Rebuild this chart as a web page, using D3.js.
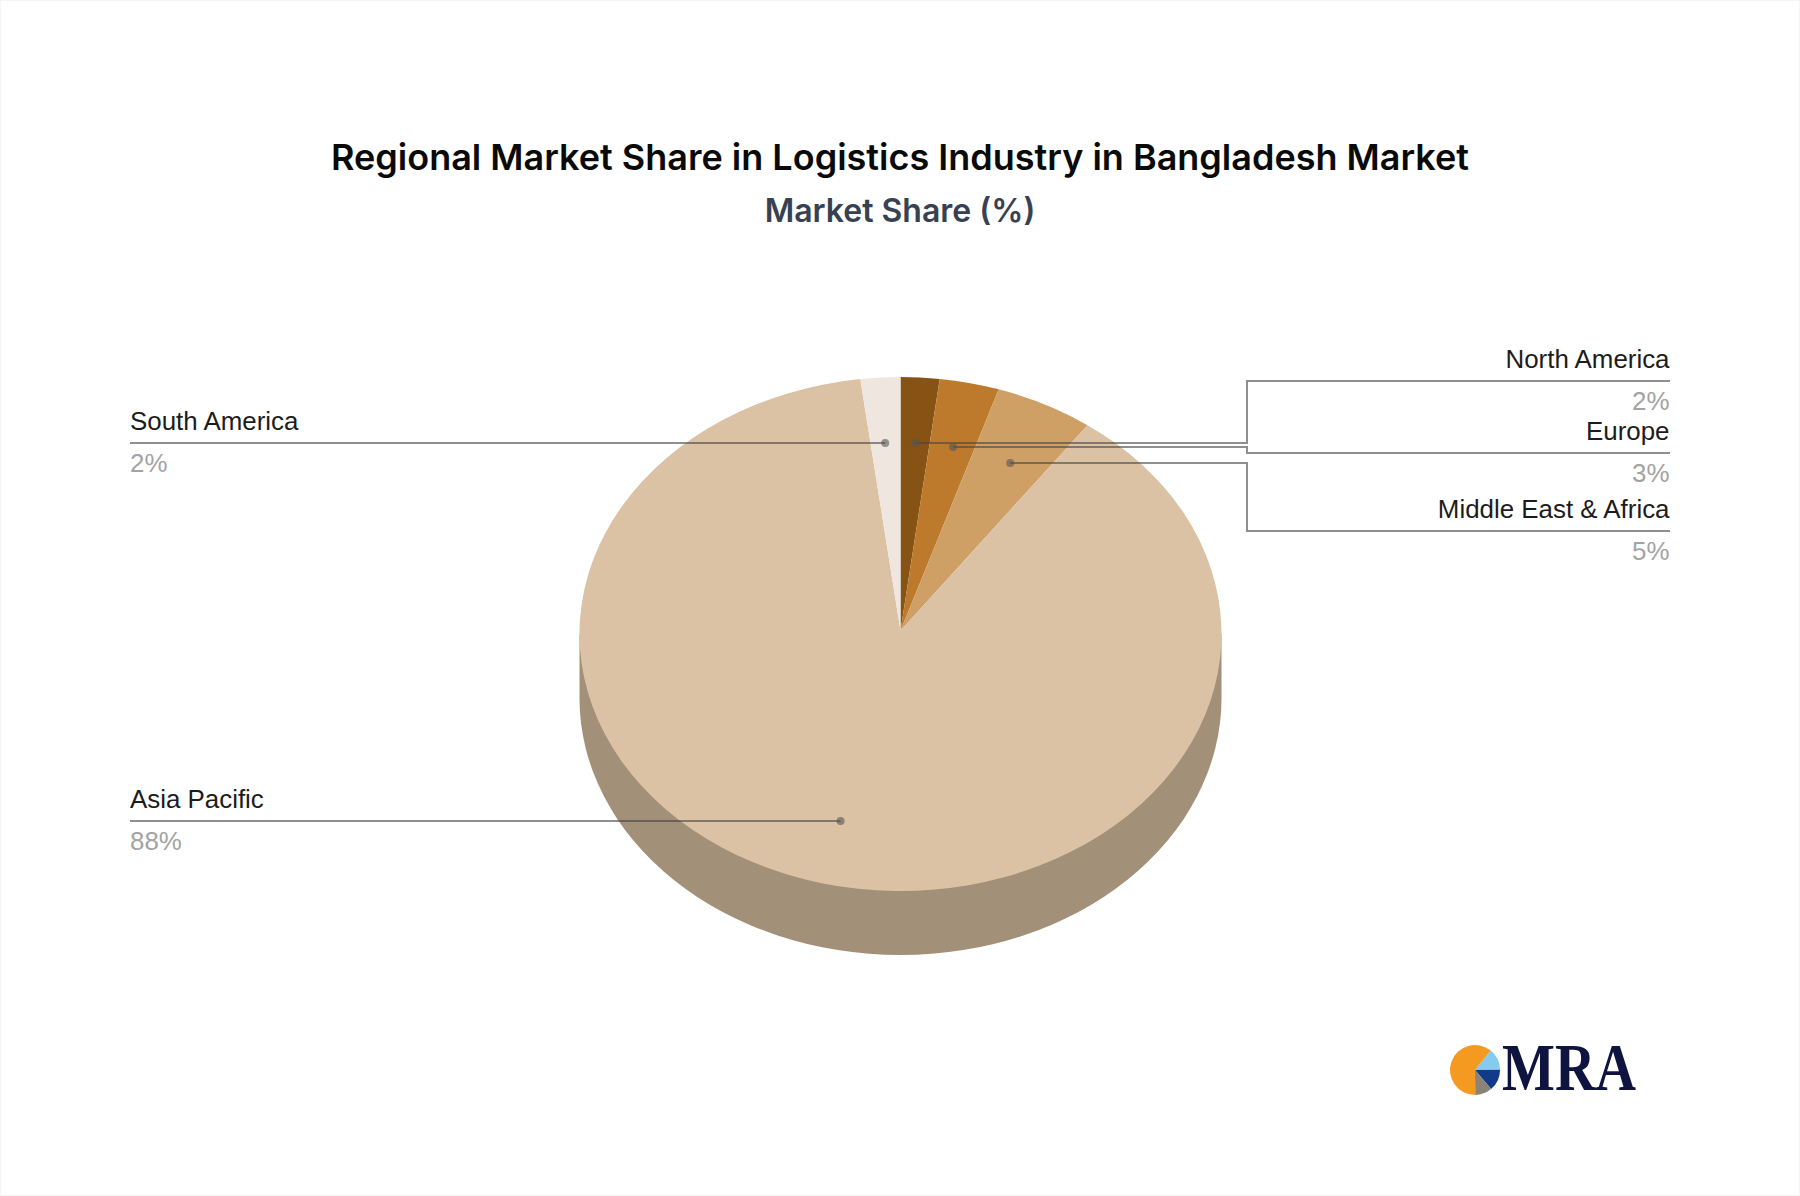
<!DOCTYPE html>
<html>
<head>
<meta charset="utf-8">
<script src="https://cdnjs.cloudflare.com/ajax/libs/d3/7.8.5/d3.min.js"></script>
<style>
html,body{margin:0;padding:0;background:#fff;}
svg{display:block;}
</style>
</head>
<body>
<svg id="chart" width="1800" height="1196"></svg>
<script>
const titleText = "Regional Market Share in Logistics Industry in Bangladesh Market";
const subtitleText = "Market Share (%)";
const regions = ["North America", "Europe", "Middle East & Africa", "Asia Pacific", "South America"];
const shares = [1.95, 3, 4.95, 88.1, 2];
const sliceColors = ["#865314", "#BD7A2C", "#CFA066", "#DCC2A4", "#EEE6DF"];

// Label layout (annotation placement only)
const labelSides = ["right", "right", "right", "left", "left"];
const underlineYs = [381, 453, 531, 821, 443];
const elbowYs = [443, 447, 463, 821, 443];

const W = 1800, H = 1196;
const cx = 900.5, cy = 634, rx = 321, ry = 257, depth = 64, apexY = 630.7;
const elbowX = 1247, rightX = 1669.5, leftX = 130;

const svg = d3.select("#chart");

svg.append("rect").attr("x", 0.5).attr("y", 0.5).attr("width", W - 1).attr("height", H - 1)
  .attr("fill", "#fff").attr("stroke", "#f5f5f5");

svg.append("text").attr("x", 900).attr("y", 169.5).attr("text-anchor", "middle")
  .attr("font-family", "Inter").attr("font-weight", 600).attr("font-size", 36).attr("fill", "#0a0a0a")
  .text(titleText);
svg.append("text").attr("x", 900).attr("y", 221.5).attr("text-anchor", "middle")
  .attr("font-family", "Inter").attr("font-weight", 600).attr("font-size", 32).attr("fill", "#374151")
  .text(subtitleText);

// Side wall
const sidePath = d3.path();
sidePath.moveTo(cx - rx, cy);
sidePath.lineTo(cx - rx, cy + depth);
svg.append("path")
  .attr("d", `${sidePath.toString()}A${rx},${ry} 0 0 0 ${cx + rx},${cy + depth}L${cx + rx},${cy}Z`)
  .attr("fill", "#A39079");

// Top face
const arcs = d3.pie().value(d => d).sort(null)(shares);
const px = a => cx + rx * Math.sin(a);
const py = a => cy - ry * Math.cos(a);
svg.append("g").selectAll("path").data(arcs).join("path")
  .attr("d", d => {
    const large = d.endAngle - d.startAngle > Math.PI ? 1 : 0;
    return `M${cx},${apexY}L${px(d.startAngle)},${py(d.startAngle)}` +
      `A${rx},${ry} 0 ${large} 1 ${px(d.endAngle)},${py(d.endAngle)}Z`;
  })
  .attr("fill", (d, i) => sliceColors[i]);

// Leaders and labels
const pct = d3.format(".0f");
const dotX = d => cx + 0.76 * rx * Math.sin((d.startAngle + d.endAngle) / 2);
const leaders = svg.append("g");
arcs.forEach((d, i) => {
  const x = dotX(d), ey = elbowYs[i], uy = underlineYs[i];
  const right = labelSides[i] === "right";
  const line = d3.line();
  const pts = right
    ? [[x, ey], [elbowX, ey], [elbowX, uy], [rightX + 0.5, uy]]
    : [[x, ey], [leftX, ey]];
  leaders.append("path").attr("d", line(pts)).attr("fill", "none")
    .attr("stroke", "#444").attr("stroke-opacity", 0.6).attr("stroke-width", 2);
  leaders.append("circle").attr("cx", x).attr("cy", ey).attr("r", 4)
    .attr("fill", "#555").attr("fill-opacity", 0.6);
  const tx = right ? rightX : leftX;
  const anchor = right ? "end" : "start";
  leaders.append("text").attr("x", tx).attr("y", uy - 13).attr("text-anchor", anchor)
    .attr("font-family", "Liberation Sans").attr("font-size", 25.9).attr("fill", "#1c1c1c")
    .text(regions[i]);
  leaders.append("text").attr("x", tx).attr("y", uy + 29).attr("text-anchor", anchor)
    .attr("font-family", "Liberation Sans").attr("font-size", 25.9).attr("fill", "#a3a3a3")
    .text(pct(shares[i]) + "%");
});

// Logo
const logoShares = [14, 14, 11, 61];
const logoColors = ["#85CBEF", "#123A8A", "#8C8378", "#F49A20"];
const logoArc = d3.arc().innerRadius(0).outerRadius(25);
const logoPie = d3.pie().value(d => d).sort(null).startAngle(Math.PI * 0.217).endAngle(Math.PI * 2.217);
const logo = svg.append("g").attr("transform", "translate(1475,1070)");
logo.selectAll("path").data(logoPie(logoShares)).join("path")
  .attr("d", logoArc).attr("fill", (d, i) => logoColors[i]);
svg.append("text").attr("x", 1502).attr("y", 1090)
  .attr("font-family", "Liberation Serif").attr("font-weight", 700).attr("font-size", 68).attr("fill", "#0F1340")
  .attr("textLength", 134).attr("lengthAdjust", "spacingAndGlyphs")
  .text("MRA");
</script>
</body>
</html>
